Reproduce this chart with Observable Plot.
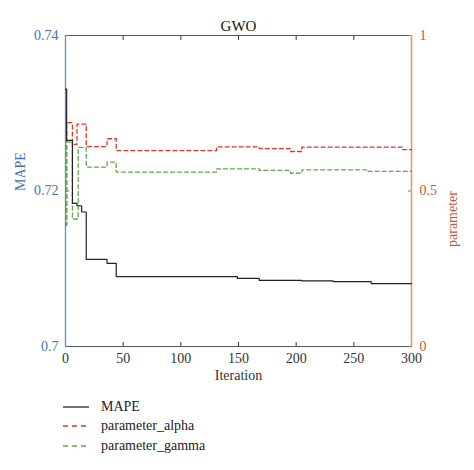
<!DOCTYPE html>
<html>
<head>
<meta charset="utf-8">
<script src="https://cdn.jsdelivr.net/npm/d3@7"></script>
<script src="https://cdn.jsdelivr.net/npm/@observablehq/plot@0.6"></script>
<style>
  body { margin: 0; background: #fff; font-family: "Liberation Serif", "DejaVu Serif", serif; }
  #legend { padding-left: 63px; font-size: 14px; color: #222; }
  .row { display: flex; align-items: center; height: 19.5px; }
  .row svg { margin-right: 12px; }
</style>
</head>
<body>
<div id="chart"></div>
<div id="legend"></div>
<script>
// GWO convergence: MAPE (left axis) and tuned parameters (right axis), step curves
const mapeIter  = [0, 1, 6, 10, 14, 18, 36, 44, 149, 168, 205, 232, 265, 300];
const mapeValue = [0.7331, 0.7265, 0.7184, 0.7181, 0.7173, 0.7112, 0.7107, 0.7090, 0.70875, 0.7085, 0.70843, 0.70835, 0.70808, 0.70808];

const alphaIter  = [0, 1, 6, 10, 18, 36, 44, 131, 168, 195, 205, 292, 300];
const alphaValue = [0.39, 0.72, 0.65, 0.715, 0.643, 0.668, 0.630, 0.642, 0.636, 0.627, 0.641, 0.633, 0.633];

const gammaIter  = [0, 1, 6, 11, 18, 36, 44, 131, 168, 195, 205, 262, 300];
const gammaValue = [0.39, 0.657, 0.41, 0.64, 0.577, 0.593, 0.561, 0.571, 0.566, 0.557, 0.568, 0.563, 0.563];

const xTicks = [0, 50, 100, 150, 200, 250, 300];
const mapeTicks = [0.70, 0.72, 0.74];
const paramTicks = [0, 0.5, 1];
const seriesNames = ["MAPE", "parameter_alpha", "parameter_gamma"];

const blueAxis = "#5b8bd3", blueText = "#4a72b2";
const orangeAxis = "#e39a6e", orangeText = "#c8553d";
const colors = {MAPE: "#222222", parameter_alpha: "#d8392b", parameter_gamma: "#62a84a"};

// The parameter axis spans [0, 1] and shares the plotting frame with MAPE [0.70, 0.74]
const mapeDomain = [0.70, 0.74];
const toMape = p => mapeDomain[0] + p * (mapeDomain[1] - mapeDomain[0]);

const mape = mapeIter.map((it, i) => ({it, v: mapeValue[i]}));
const alpha = alphaIter.map((it, i) => ({it, v: toMape(alphaValue[i])}));
const gamma = gammaIter.map((it, i) => ({it, v: toMape(gammaValue[i])}));

const chart = Plot.plot({
  width: 474,
  height: 392,
  marginLeft: 65,
  marginRight: 63,
  marginTop: 35,
  marginBottom: 46,
  style: {fontFamily: "'Liberation Serif', 'DejaVu Serif', serif", fontSize: "14px", background: "#fff"},
  x: {domain: [0, 300]},
  y: {domain: mapeDomain},
  marks: [
    Plot.ruleY([mapeDomain[0], mapeDomain[1]], {stroke: "#555"}),
    Plot.axisX({anchor: "bottom", ticks: xTicks, tickSize: -4, tickPadding: 11, color: "#333", label: null}),
    Plot.axisX({anchor: "top", ticks: xTicks, tickSize: -4, tickFormat: () => "", color: "#333", label: null}),
    Plot.axisY({anchor: "left", ticks: mapeTicks, tickSize: -4, tickPadding: 11,
      tickFormat: d => String(+d.toFixed(2)), color: blueText, label: null}),
    Plot.axisY({anchor: "right", ticks: paramTicks.map(toMape), tickSize: -4, tickPadding: 12,
      tickFormat: (d, i) => String(paramTicks[i]), color: orangeText, label: null}),
    Plot.ruleX([0], {stroke: blueAxis, strokeWidth: 1.3}),
    Plot.ruleX([300], {stroke: orangeAxis, strokeWidth: 1.6}),
    Plot.line(alpha, {x: "it", y: "v", curve: "step-after", stroke: colors.parameter_alpha, strokeWidth: 1.3, strokeDasharray: "4,3"}),
    Plot.line(gamma, {x: "it", y: "v", curve: "step-after", stroke: colors.parameter_gamma, strokeWidth: 1.3, strokeDasharray: "4,3"}),
    Plot.line(mape, {x: "it", y: "v", curve: "step-after", stroke: colors.MAPE, strokeWidth: 1.2}),
    Plot.text(["GWO"], {text: d => d, frameAnchor: "top", dy: -15, fontSize: 15, fill: "#111"}),
    Plot.text(["Iteration"], {text: d => d, frameAnchor: "bottom", dy: 33, fill: "#333"}),
    Plot.text(["MAPE"], {text: d => d, frameAnchor: "left", dx: -45, rotate: -90, fill: blueText}),
    Plot.text(["parameter"], {text: d => d, frameAnchor: "right", dx: 41, rotate: -90, fill: orangeText})
  ]
});
document.getElementById("chart").appendChild(chart);

// Legend below the plot
const legend = document.getElementById("legend");
seriesNames.forEach(name => {
  const row = document.createElement("div");
  row.className = "row";
  const dash = name === "MAPE" ? "" : `stroke-dasharray="5,4"`;
  row.innerHTML = `<svg width="26" height="10"><line x1="0" x2="26" y1="5" y2="5" stroke="${colors[name]}" stroke-width="1.3" ${dash}/></svg><span>${name}</span>`;
  legend.appendChild(row);
});
legend.style.paddingTop = "5px";
</script>
</body>
</html>
